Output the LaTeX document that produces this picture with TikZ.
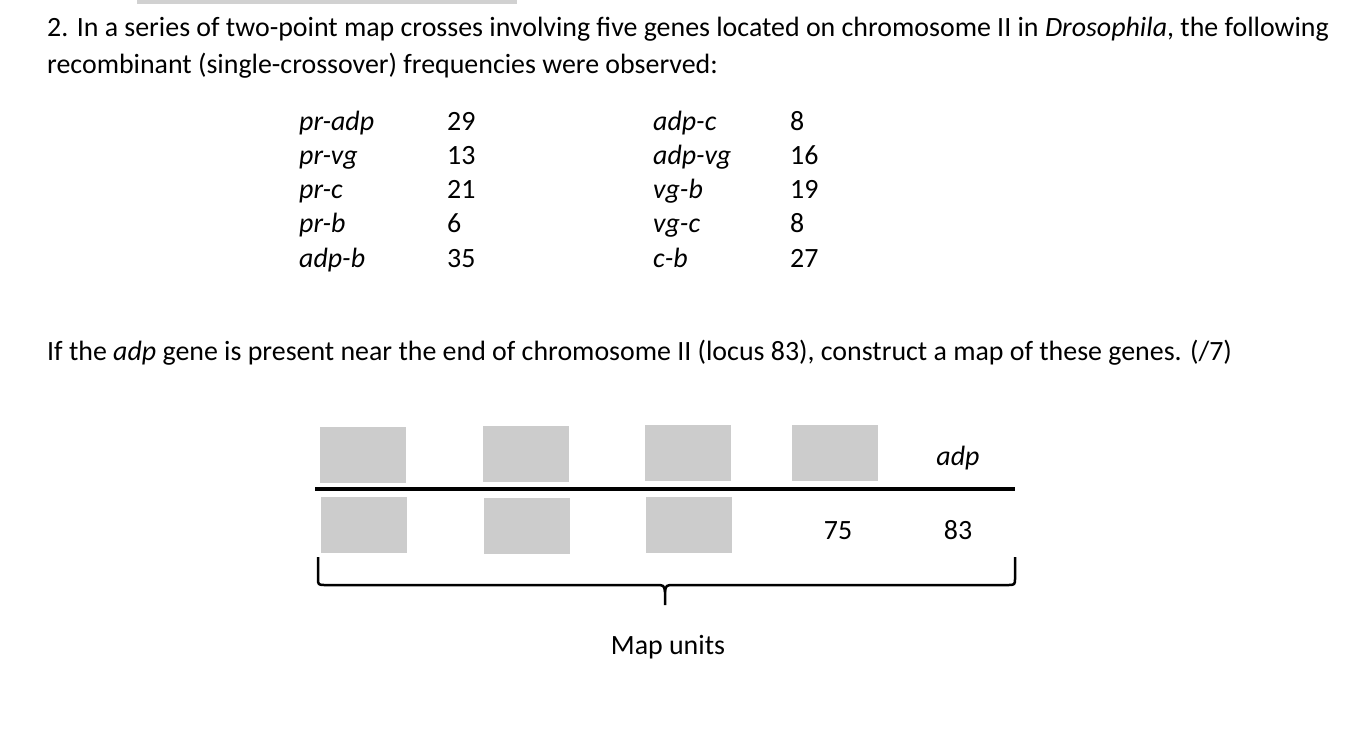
\documentclass[tikz,border=0pt]{standalone}
\usepackage{fontspec}
\setmainfont{Carlito}
\begin{document}
\begin{tikzpicture}[x=1pt,y=-1pt,
  txt/.style={inner sep=0pt,font=\fontsize{27.9}{32}\selectfont},
  gbox/.style={fill=black!20,draw=none}]
\useasboundingbox (0,0) rectangle (1371,729);
\fill[black!18] (137,0) rectangle (517,4);
\node[txt,anchor=base west] (l1) at (47,36) {2. In a series of two-point map crosses involving five genes located on chromosome II in \textit{Drosophila}, the following};
\node[txt,anchor=base west] (l2) at (47,73) {recombinant (single-crossover) frequencies were observed:};
\foreach \a/\b/\c/\d/\y [count=\i] in {pr-adp/29/adp-c/8/130, pr-vg/13/adp-vg/16/164, pr-c/21/vg-b/19/198, pr-b/6/vg-c/8/232, adp-b/35/c-b/27/267}{
  \node[txt,anchor=base west] (a\i) at (299,\y) {\textit{\a}};
  \node[txt,anchor=base west] (b\i) at (447,\y) {\b};
  \node[txt,anchor=base west] (c\i) at (653,\y) {\textit{\c}};
  \node[txt,anchor=base west] (d\i) at (790,\y) {\d};
}
\node[txt,anchor=base west] (l3) at (47,360) {If the \textit{adp} gene is present near the end of chromosome II (locus 83), construct a map of these genes. (/7)};
\fill[gbox] (320,427) rectangle (406,483);
\fill[gbox] (483,426) rectangle (569,482);
\fill[gbox] (645,425) rectangle (731,481);
\fill[gbox] (792,425) rectangle (878,481);
\fill[gbox] (321,497) rectangle (407,553);
\fill[gbox] (484,498) rectangle (570,554);
\fill[gbox] (646,497) rectangle (732,553);
\node[txt,anchor=base] (adp) at (958,465) {\textit{adp}};
\draw[line width=3.5pt] (315,489) coordinate (ls) -- (1015,489) coordinate (le);
\node[txt,anchor=base] (n75) at (838,539) {75};
\node[txt,anchor=base] (n83) at (958,539) {83};
\draw[line width=2.5pt,line join=round]
  (318,557) -- (318,578) .. controls (318,585) .. (326,585) -- (655,585)
  .. controls (664,585) .. (665,592) -- (665,605);
\draw[line width=2.5pt,line join=round]
  (1015,557) -- (1015,578) .. controls (1015,585) .. (1007,585) -- (675,585)
  .. controls (666,585) .. (665,592);
\node[txt,anchor=base] (mu) at (668,654) {Map units};
\end{tikzpicture}
\end{document}
